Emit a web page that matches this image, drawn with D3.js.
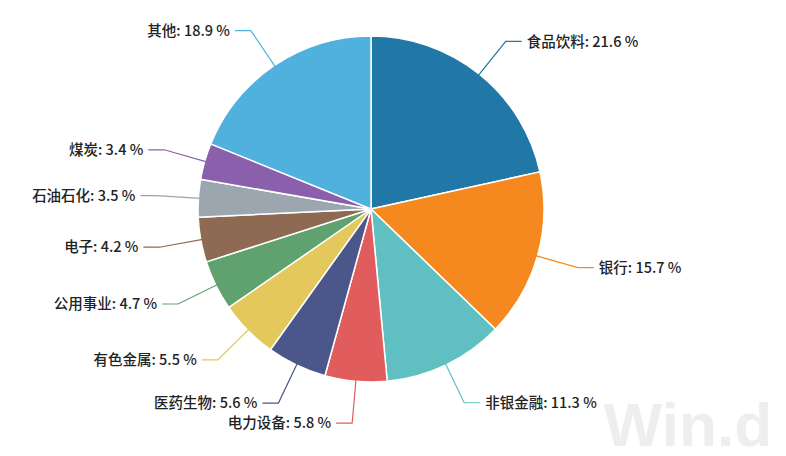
<!DOCTYPE html>
<html><head><meta charset="utf-8">
<script src="https://cdn.jsdelivr.net/npm/d3@7/dist/d3.min.js"></script>
<style>body{margin:0;background:#fff}</style></head>
<body><svg id="c" width="786" height="456"></svg>
<script>
const categories=["食品饮料","银行","非银金融","电力设备","医药生物","有色金属","公用事业","电子","石油石化","煤炭","其他"];
const values=[21.6,15.7,11.3,5.8,5.6,5.5,4.7,4.2,3.5,3.4,18.9];
const colors=["#2177a6","#f5891f","#5fbfc1","#e15d5d","#4b578b","#e4c85b","#5fa16f","#8d6a51","#9ba6ae","#8a60ad","#50b0de"];
const svg=d3.select("#c");
const cx=371,cy=209,r=173;
svg.append("text").attr("x",772).attr("y",446).attr("text-anchor","end").attr("font-family","Arial").attr("font-size",62).attr("font-weight","bold").attr("fill","#eee").text("Win.d");
const g=svg.append("g").attr("transform",`translate(${cx},${cy})`);
const pie=d3.pie().sort(null).value(d=>d)(values);
const arc=d3.arc().innerRadius(0).outerRadius(r);
g.selectAll("path").data(pie).enter().append("path").attr("d",arc)
 .attr("fill",(d,i)=>colors[i]).attr("stroke","#fff").attr("stroke-width",1.5);
pie.forEach((d,i)=>{
 const a=(d.startAngle+d.endAngle)/2;
 const s=Math.sin(a),c=-Math.cos(a);
 const p0=[s*(r-2),c*(r-2)],p1=[s*(r+42),c*(r+42)];
 const right=s>=0;
 const p2=[p1[0]+(right?16:-16),p1[1]];
 g.append("polyline").attr("points",[p0,p1,p2].map(p=>p.join(",")).join(" "))
  .attr("fill","none").attr("stroke",colors[i]).attr("stroke-width",1.2);
 g.append("text").attr("x",p2[0]+(right?5:-5)).attr("y",p2[1]).attr("dy","0.35em")
  .attr("text-anchor",right?"start":"end").attr("font-family","Noto Sans CJK SC, sans-serif")
  .attr("font-size",14.5).attr("font-weight",500).attr("fill","#222").text(`${categories[i]}: ${values[i]} %`);
});
</script></body></html>
